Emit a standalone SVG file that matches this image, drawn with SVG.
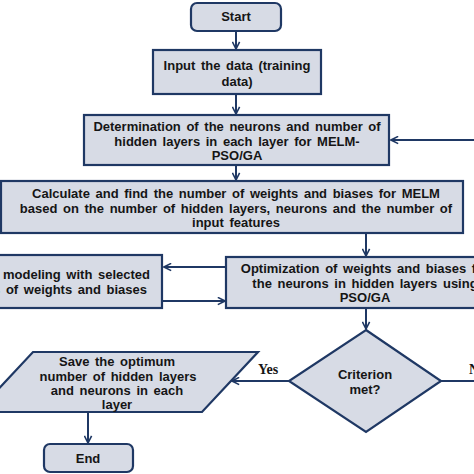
<svg xmlns="http://www.w3.org/2000/svg" width="474" height="474" viewBox="0 0 474 474">
<defs>
<style>
.box{fill:#d7dbe5;stroke:#1f3864;stroke-width:2.2}
.t{font-family:"Liberation Sans",Arial,sans-serif;font-weight:bold;font-size:13px;fill:#151515;text-anchor:middle;word-spacing:2px}
.lbl{font-family:"Liberation Serif","Times New Roman",serif;font-weight:bold;font-size:14px;fill:#151515;text-anchor:middle}
.c{fill:none;stroke:#1f3864;stroke-width:2}
</style>
<marker id="ah" viewBox="0 0 10 10" refX="9" refY="5" markerWidth="9" markerHeight="9" markerUnits="userSpaceOnUse" orient="auto">
<path d="M1,1 L9,5 L1,9" fill="none" stroke="#1f3864" stroke-width="1.8"/>
</marker>
</defs>
<rect width="474" height="474" fill="#fff"/>
<g id="connectors">
<line class="c" x1="236" y1="31" x2="236" y2="49" marker-end="url(#ah)"/>
<line class="c" x1="236" y1="94" x2="236" y2="114" marker-end="url(#ah)"/>
<line class="c" x1="476" y1="140" x2="391" y2="140" marker-end="url(#ah)"/>
<line class="c" x1="236" y1="165" x2="236" y2="180" marker-end="url(#ah)"/>
<line class="c" x1="366" y1="233" x2="366" y2="256" marker-end="url(#ah)"/>
<line class="c" x1="226" y1="267" x2="164" y2="267" marker-end="url(#ah)"/>
<line class="c" x1="162" y1="301" x2="225" y2="301" marker-end="url(#ah)"/>
<line class="c" x1="366" y1="308" x2="366" y2="329" marker-end="url(#ah)"/>
<line class="c" x1="289" y1="381" x2="232" y2="381" marker-end="url(#ah)"/>
<line class="c" x1="441" y1="381" x2="476" y2="381"/>
<line class="c" x1="88" y1="412" x2="88" y2="443" marker-end="url(#ah)"/>
<text class="lbl" x="268" y="374">Yes</text>
<text class="lbl" x="469" y="374" style="text-anchor:start">N</text>
</g>
<g id="start">
<rect class="box" x="191" y="3" width="90" height="28" rx="6"/>
<text class="t" x="236" y="21">Start</text>
</g>
<g id="input">
<rect class="box" x="153" y="50" width="168" height="44"/>
<text class="t" x="237" y="70">Input the data (training</text>
<text class="t" x="237" y="86">data)</text>
</g>
<g id="determination">
<rect class="box" x="84" y="115" width="305" height="50"/>
<text class="t" x="237" y="131">Determination of the neurons and number of</text>
<text class="t" x="237" y="146">hidden layers in each layer for MELM-</text>
<text class="t" x="237" y="160">PSO/GA</text>
</g>
<g id="calculate">
<rect class="box" x="1" y="181" width="462" height="52"/>
<text class="t" x="236" y="198">Calculate and find the number of weights and biases for MELM</text>
<text class="t" x="236" y="213">based on the number of hidden layers, neurons and the number of</text>
<text class="t" x="236" y="227">input features</text>
</g>
<g id="optimization">
<rect class="box" x="226" y="257" width="260" height="51"/>
<text class="t" x="365" y="273">Optimization of weights and biases for</text>
<text class="t" x="365" y="288">the neurons in hidden layers using</text>
<text class="t" x="365" y="302">PSO/GA</text>
</g>
<g id="modeling">
<rect class="box" x="-10" y="255" width="172" height="53"/>
<text class="t" x="150" y="279" style="text-anchor:end">modeling with selected</text>
<text class="t" x="147" y="294" style="text-anchor:end">s of weights and biases</text>
</g>
<g id="criterion">
<polygon class="box" points="366,330 441,381 366,432 289,381"/>
<text class="t" x="365" y="379">Criterion</text>
<text class="t" x="365" y="394">met?</text>
</g>
<g id="save">
<polygon class="box" points="33,352 258,352 202,412 -23,412"/>
<text class="t" x="117" y="366">Save the optimum</text>
<text class="t" x="118" y="381">number of hidden layers</text>
<text class="t" x="117" y="395">and neurons in each</text>
<text class="t" x="117" y="409">layer</text>
</g>
<g id="end">
<rect class="box" x="44" y="444" width="89" height="28" rx="6"/>
<text class="t" x="88" y="463">End</text>
</g>
</svg>
